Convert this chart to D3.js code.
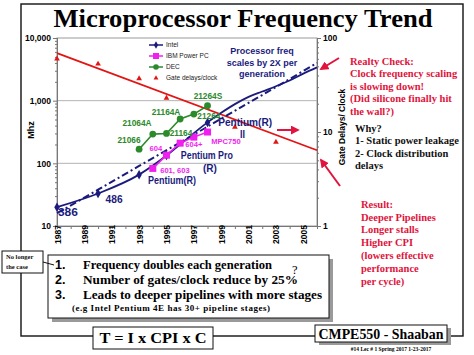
<!DOCTYPE html>
<html><head><meta charset="utf-8">
<script src="https://cdn.jsdelivr.net/npm/d3@7"></script>
<style>body{margin:0;background:#fff}svg{display:block}</style>
</head><body>
<svg id="c" width="474" height="355"></svg>
<script>
// ---------------- data ----------------
const yearTicks = [1987,1989,1991,1993,1995,1997,1999,2001,2003,2005];
const leftTicks = [10,100,1000,10000];
const leftTickLabels = ["10","100","1,000","10,000"];
const rightTicks = [1,10,100];
const rightTickLabels = ["1","10","100"];

const intelYears = [1987,1990,1993,1995,1996,1998,1999,2000,2001,2002,2003,2004,2005,2006];
const intelMHz   = [20,33,66,133,200,450,640,880,1150,1400,1700,2100,2700,3400];
const intelMarkedYears = [1987,1990,1993,1995,1998];

const trendYears = [1987,1990,1993,1996,1999,2002,2006];
const trendMHz   = [16,38,91,215,515,1230,4000];

const ibmYears = [1994,1995,1996,1997,1998];
const ibmMHz   = [83,135,210,262,316];

const decYears = [1993,1994,1995,1996,1997,1998];
const decMHz   = [168,293,300,510,610,830];

const gateYears  = [1987,1990,1993,1995,2000,2003];
const gateDelays = [60,53,37,23,11.3,7.8];
const gateTrendYears  = [1987,2006];
const gateTrendDelays = [69,6.4];

const decLabels   = ["21066","21064A","21164A","21164","21264","21264S"];
const decLabelAt  = [[1992.26,236],[1992.85,440],[1994.97,659],[1996.06,305],[1998.1,575],[1998.03,1186]];
const ibmLabels   = ["604","604+","MPC750","601, 603"];
const ibmLabelAt  = [[1994.23,176],[1997.0,198],[1999.35,222],[1995.62,78]];
const intelLabels = ["386","486","Pentium(R)","Pentium Pro","(R)","Pentium(R)","II"];
const intelLabelAt= [[1987.8,16.7],[1991.17,26.9],[1995.4,54],[1997.95,135],[1998.18,85],[2000.75,450],[2000.55,290]];

const legendNames = ["Intel","IBM Power PC","DEC","Gate delays/clock"];

// ---------------- styles ----------------
const NAVY="#1b1b7d", MAG="#f01ff0", GRN="#2b8a2b", RED="#e31414", CRIM="#e0143c";
const SANS="Liberation Sans, Arial, sans-serif", SERIF="Liberation Serif, Times New Roman, serif";
const intelLabelWidths = [20,17,48,52,14,54,5];

const svg = d3.select("#c");
const x  = d3.scaleLinear().domain([1987,2006]).range([57,317]);
const yL = d3.scaleLog().domain([10,10000]).range([226,38]);
const yR = d3.scaleLog().domain([1,100]).range([226,38]);

// slide frame
svg.append("rect").attr("x",21).attr("y",4).attr("width",442).attr("height",332)
  .attr("fill","none").attr("stroke","#111").attr("stroke-width",1.4);

// title
svg.append("text").attr("x",243).attr("y",27).attr("text-anchor","middle")
  .attr("font-family",SERIF).attr("font-weight","bold").attr("font-size",26)
  .attr("textLength",379).attr("lengthAdjust","spacingAndGlyphs")
  .text("Microprocessor Frequency Trend");

// ---------------- chart ----------------
const g = svg.append("g");
g.selectAll("line.grid").data([100,1000]).join("line")
  .attr("x1",57).attr("x2",317).attr("y1",d=>yL(d)).attr("y2",d=>yL(d))
  .attr("stroke","#b4b4b4").attr("stroke-width",1);
g.append("rect").attr("x",57).attr("y",38).attr("width",260).attr("height",188)
  .attr("fill","none").attr("stroke","#9a9a9a");

function minorTicks(dom){const r=[];for(let d=dom[0];d<dom[1];d*=10)for(let k=2;k<=9;k++)r.push(d*k);return r;}

g.append("g").attr("transform","translate(57,0)")
  .call(d3.axisLeft(yL).tickValues(leftTicks).tickFormat((d,i)=>leftTickLabels[i]).tickSize(4).tickPadding(2));
g.append("g").attr("transform","translate(57,0)")
  .call(d3.axisLeft(yL).tickValues(minorTicks([10,10000])).tickFormat("").tickSize(2));
g.append("g").attr("transform","translate(317,0)")
  .call(d3.axisRight(yR).tickValues(rightTicks).tickFormat((d,i)=>rightTickLabels[i]).tickSize(4).tickPadding(2));
g.append("g").attr("transform","translate(317,0)")
  .call(d3.axisRight(yR).tickValues(minorTicks([1,100])).tickFormat("").tickSize(2));
const allYears = d3.range(1987,2007);
const axB = g.append("g").attr("transform","translate(0,226)")
  .call(d3.axisBottom(x).tickValues(allYears).tickFormat(d=>yearTicks.includes(d)?String(d):"").tickSize(3));
g.selectAll(".domain").attr("stroke","#777");
g.selectAll(".tick line").attr("stroke","#777");
g.selectAll(".tick text").attr("font-family",SANS).attr("font-weight","bold").attr("font-size",8.5).attr("fill","#000");
axB.selectAll(".tick text").attr("text-anchor","end").attr("transform","translate(3,-5) rotate(-90)")
  .attr("dy","0").attr("x",-4).attr("y",0);

g.append("text").attr("transform","translate(34,130) rotate(-90)").attr("text-anchor","middle")
  .attr("font-family",SANS).attr("font-weight","bold").attr("font-size",9).text("Mhz");
g.append("text").attr("transform","translate(345,127) rotate(-90)").attr("text-anchor","middle")
  .attr("font-family",SANS).attr("font-weight","bold").attr("font-size",8.5).text("Gate Delays/ Clock");

const lineL = d3.line().x(d=>x(d[0])).y(d=>yL(d[1]));
const lineR = d3.line().x(d=>x(d[0])).y(d=>yR(d[1]));
const zip=(a,b)=>a.map((v,i)=>[v,b[i]]);

g.append("path").datum(zip(gateTrendYears,gateTrendDelays)).attr("d",lineR)
  .attr("fill","none").attr("stroke",RED).attr("stroke-width",1.8);
g.selectAll("path.gate").data(zip(gateYears,gateDelays)).join("path")
  .attr("transform",d=>`translate(${x(d[0])},${yR(d[1])})`)
  .attr("d",d3.symbol(d3.symbolTriangle,14)).attr("fill",RED);

g.append("path").datum(zip(decYears,decMHz)).attr("d",lineL)
  .attr("fill","none").attr("stroke",GRN).attr("stroke-width",1.6);
g.selectAll("circle.dec").data(zip(decYears,decMHz)).join("circle")
  .attr("cx",d=>x(d[0])).attr("cy",d=>yL(d[1])).attr("r",3.4).attr("fill",GRN);

g.append("path").datum(zip(trendYears,trendMHz)).attr("d",d3.line().curve(d3.curveMonotoneX).x(d=>x(d[0])).y(d=>yL(d[1])))
  .attr("fill","none").attr("stroke",NAVY).attr("stroke-width",2).attr("stroke-dasharray","7,3,2,3");

g.append("path").datum(zip(intelYears,intelMHz)).attr("d",d3.line().curve(d3.curveMonotoneX).x(d=>x(d[0])).y(d=>yL(d[1])))
  .attr("fill","none").attr("stroke",NAVY).attr("stroke-width",1.8);
g.selectAll("path.intel").data(zip(intelYears,intelMHz).filter(d=>intelMarkedYears.includes(d[0]))).join("path")
  .attr("transform",d=>`translate(${x(d[0])},${yL(d[1])})`)
  .attr("d",d3.symbol(d3.symbolDiamond,26)).attr("fill",NAVY);

g.append("path").datum(zip(ibmYears,ibmMHz)).attr("d",lineL)
  .attr("fill","none").attr("stroke",MAG).attr("stroke-width",1.6);
g.selectAll("rect.ibm").data(zip(ibmYears,ibmMHz)).join("rect")
  .attr("x",d=>x(d[0])-3.5).attr("y",d=>yL(d[1])-3.5).attr("width",7).attr("height",7).attr("fill",MAG);

function labels(names,at,color,size,widths){
  const t = g.selectAll(null).data(names).join("text")
    .attr("x",(d,i)=>x(at[i][0])).attr("y",(d,i)=>yL(at[i][1])).attr("dy","0.35em")
    .attr("text-anchor","middle").attr("font-family",SANS).attr("font-weight","bold")
    .attr("font-size",size).attr("fill",color).text(d=>d);
  if(widths) t.attr("textLength",(d,i)=>widths[i]).attr("lengthAdjust","spacingAndGlyphs");
}
labels(decLabels,decLabelAt,GRN,8.3);
labels(ibmLabels,ibmLabelAt,MAG,7.6);
labels(intelLabels,intelLabelAt,NAVY,11,intelLabelWidths);

["Processor freq","scales by 2X per","generation"].forEach((t,i)=>{
  g.append("text").attr("x",262).attr("y",51+i*11.5).attr("text-anchor","middle").attr("dy","0.35em")
   .attr("font-family",SANS).attr("font-weight","bold").attr("font-size",9).attr("fill",NAVY).text(t);
});

const lg = g.append("g");
legendNames.forEach((n,i)=>{
  const yy = 45+i*11;
  const col=[NAVY,MAG,GRN,RED][i];
  if(i<3) lg.append("line").attr("x1",149).attr("x2",163).attr("y1",yy).attr("y2",yy).attr("stroke",col).attr("stroke-width",1.5);
  if(i===0) lg.append("path").attr("transform",`translate(156,${yy})`).attr("d",d3.symbol(d3.symbolDiamond,16)).attr("fill",col);
  if(i===1) lg.append("rect").attr("x",153).attr("y",yy-3).attr("width",6).attr("height",6).attr("fill",col);
  if(i===2) lg.append("circle").attr("cx",156).attr("cy",yy).attr("r",2.8).attr("fill",col);
  if(i===3) lg.append("path").attr("transform",`translate(156,${yy})`).attr("d",d3.symbol(d3.symbolTriangle,10)).attr("fill",col);
  lg.append("text").attr("x",166).attr("y",yy).attr("dy","0.35em").attr("font-family",SANS)
    .attr("font-size",6.5).attr("fill","#222").text(n);
});

const defs = svg.append("defs");
defs.append("marker").attr("id","ah").attr("viewBox","0 0 10 10").attr("refX",8).attr("refY",5)
  .attr("markerWidth",4.5).attr("markerHeight",4.5).attr("orient","auto")
  .append("path").attr("d","M0,0L10,5L0,10z").attr("fill",CRIM);
[[339,58,321,69],[340,186,321,160],[277,130,298,130]].forEach(a=>{
  svg.append("line").attr("x1",a[0]).attr("y1",a[1]).attr("x2",a[2]).attr("y2",a[3])
    .attr("stroke",CRIM).attr("stroke-width",2).attr("marker-end","url(#ah)");
});

function block(lines,x0,y0,dy,color,size){
  lines.forEach((t,i)=>svg.append("text").attr("x",x0).attr("y",y0+i*dy).attr("dy","0.35em")
    .attr("font-family",SERIF).attr("font-weight","bold").attr("font-size",size).attr("fill",color).text(t));
}
block(["Realty Check:","Clock frequency scaling","is slowing down!","(Did silicone finally hit","the wall?)"],350,61,12.5,CRIM,10.5);
block(["Why?","1- Static power leakage","2- Clock distribution","delays"],355,128,12.6,"#111",10.5);
block(["Result:","Deeper Pipelines","Longer stalls","Higher CPI","(lowers effective","performance","per cycle)"],361,204,12.9,CRIM,10.5);

svg.append("rect").attr("x",52).attr("y",259).attr("width",281).attr("height",63).attr("fill","#9a9a9a");
svg.append("rect").attr("x",48).attr("y",255).attr("width",281).attr("height",63).attr("fill","#fff").attr("stroke","#111");
const items=["Frequency doubles each generation","Number of gates/clock reduce by 25%","Leads to deeper pipelines with more stages"];
const itemWidths=[189,215,239];
items.forEach((t,i)=>{
  const yy=265+i*14.6;
  svg.append("text").attr("x",55).attr("y",yy).attr("dy","0.35em").attr("font-family",SANS).attr("font-weight","bold").attr("font-size",12.5).text((i+1)+".");
  svg.append("text").attr("x",83).attr("y",yy).attr("dy","0.35em").attr("font-family",SERIF).attr("font-weight","bold").attr("font-size",12.5)
    .attr("textLength",itemWidths[i]).attr("lengthAdjust","spacingAndGlyphs").text(t);
});
svg.append("text").attr("x",72).attr("y",308).attr("dy","0.35em").attr("font-family",SERIF).attr("font-weight","bold").attr("font-size",9).attr("textLength",198).text("(e.g Intel Pentium 4E  has 30+ pipeline stages)");
svg.append("text").attr("x",292).attr("y",270).attr("dy","0.35em").attr("font-family",SERIF).attr("font-size",12.5).text("?");

svg.append("rect").attr("x",2).attr("y",251).attr("width",41).attr("height",22).attr("fill","#fff").attr("stroke","#111");
block(["No longer","the case"],6,257,10,"#111",6.5);
svg.append("line").attr("x1",43).attr("y1",262).attr("x2",54).attr("y2",265).attr("stroke","#111");

svg.append("rect").attr("x",93).attr("y",327).attr("width",120).attr("height",22).attr("fill","#fff").attr("stroke","#111");
svg.append("text").attr("x",153).attr("y",338).attr("dy","0.35em").attr("text-anchor","middle").attr("font-family",SERIF)
  .attr("font-weight","bold").attr("font-size",15).attr("textLength",107).attr("lengthAdjust","spacingAndGlyphs").text("T =  I  x  CPI   x C");

svg.append("rect").attr("x",319).attr("y",328).attr("width",132).attr("height",17).attr("fill","#9a9a9a");
svg.append("rect").attr("x",315).attr("y",325).attr("width",132).attr("height",17).attr("fill","#fff").attr("stroke","#111");
svg.append("text").attr("x",381).attr("y",334).attr("dy","0.35em").attr("text-anchor","middle").attr("font-family",SERIF)
  .attr("font-weight","bold").attr("font-size",15).attr("textLength",125).attr("lengthAdjust","spacingAndGlyphs").text("CMPE550 - Shaaban");
svg.append("text").attr("x",391).attr("y",349).attr("dy","0.35em").attr("text-anchor","middle").attr("font-family",SERIF)
  .attr("font-weight","bold").attr("font-size",5.5).text("#14  Lec # 1  Spring 2017  1-23-2017");
</script>
</body></html>
